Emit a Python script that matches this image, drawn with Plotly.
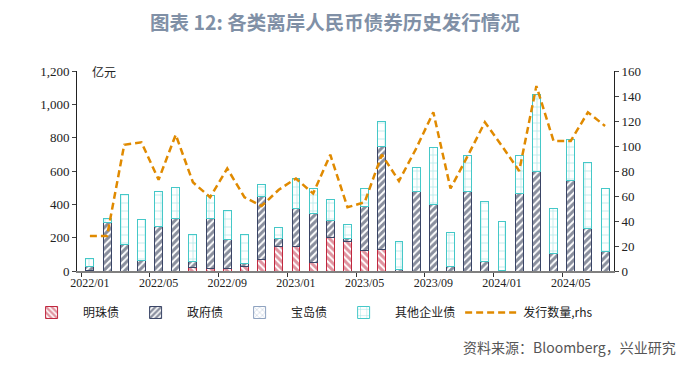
import plotly.graph_objects as go

months = ["2022/01","2022/02","2022/03","2022/04","2022/05","2022/06","2022/07","2022/08","2022/09","2022/10","2022/11","2022/12",
          "2023/01","2023/02","2023/03","2023/04","2023/05","2023/06","2023/07","2023/08","2023/09","2023/10","2023/11","2023/12",
          "2024/01","2024/02","2024/03","2024/04","2024/05","2024/06","2024/07"]
mingzhu = [5,0,0,0,0,0,24,15,18,30,68,146,
           150,50,203,177,124,132,0,0,0,0,0,0,
           0,0,0,0,0,0,0]
gov = [25,294,162,62,270,314,36,303,174,16,382,48,
       227,297,100,17,263,614,10,477,397,30,480,60,
       4,467,598,108,546,253,118]
baodao = [0]*31
other = [44,24,298,246,210,190,158,136,172,172,70,66,
         179,149,124,83,106,151,170,147,345,201,212,357,
         293,225,463,269,242,399,379]
count = [28,28,101,103,73,109,71,59,82,59,52,65,
         74,62,93,51,55,93,72,98,127,66,92,119,
         100,80,148,104,104,127,116]

idx = list(range(len(months)))
tick_idx = idx[::4]
tick_txt = [months[i] for i in tick_idx]

RED = "#C0283F"
NAVY = "#131D3C"
BAO = "#8FA3C0"
CYAN = "#45C8C8"
ORANGE = "#E08A00"
bw = 0.46

fig = go.Figure()
fig.add_bar(x=idx, y=mingzhu, name="明珠债", width=bw,
            marker=dict(color="white", line=dict(color=RED, width=1),
                        pattern=dict(shape="\\", fgcolor=RED, bgcolor="white", size=5, solidity=0.6)))
fig.add_bar(x=idx, y=gov, name="政府债", width=bw,
            marker=dict(color="white", line=dict(color="#3A4566", width=1),
                        pattern=dict(shape="/", fgcolor=NAVY, bgcolor="white", size=5, solidity=0.6)))
fig.add_bar(x=idx, y=baodao, name="宝岛债", width=bw,
            marker=dict(color="white", line=dict(color=BAO, width=1),
                        pattern=dict(shape="x", fgcolor=BAO, bgcolor="white", size=5, solidity=0.3)))
fig.add_bar(x=idx, y=other, name="其他企业债", width=bw,
            marker=dict(color="white", line=dict(color=CYAN, width=1),
                        pattern=dict(shape="+", fgcolor=CYAN, bgcolor="white", size=8, solidity=0.15)))
fig.add_scatter(x=idx, y=count, name="发行数量,rhs", yaxis="y2", mode="lines",
                line=dict(color=ORANGE, width=2.5, dash="7px,4px"))

fig.update_layout(
    width=686, height=381, barmode="stack", plot_bgcolor="white", paper_bgcolor="white",
    margin=dict(l=62, r=80, t=63, b=118),
    font=dict(family="Liberation Serif", size=12, color="#222"),
    xaxis=dict(range=[-0.75, 30.52], tickmode="array", tickvals=tick_idx, ticktext=tick_txt,
               showline=True, linecolor="#808080", linewidth=2, ticks="", showgrid=False, zeroline=False,
               tickfont=dict(family="Liberation Serif", size=12, color="#222"),
               minor=dict(tickmode="linear", tick0=-0.5, dtick=4, ticks="outside", ticklen=4, tickcolor="#333")),
    yaxis=dict(range=[0, 1200], dtick=200, tickformat=",", showline=True, linecolor="#222", linewidth=1,
               ticks="outside", ticklen=4, showgrid=False, zeroline=False,
               tickfont=dict(family="Liberation Serif", size=13, color="#222")),
    yaxis2=dict(range=[0, 160], dtick=20, overlaying="y", side="right", showline=True, linecolor="#222",
                linewidth=1, ticks="outside", ticklen=4, showgrid=False, zeroline=False,
                tickfont=dict(family="Liberation Serif", size=13, color="#222")),
    legend=dict(orientation="h", x=-0.106, y=-0.135, xref="paper", yref="paper", xanchor="left", yanchor="top",
                font=dict(family="Noto Sans CJK SC", size=12, color="#222"), traceorder="normal",
                itemwidth=53, bgcolor="rgba(0,0,0,0)"),
    showlegend=True,
)
fig.add_annotation(text="<b>图表 12: 各类离岸人民币债券历史发行情况</b>", x=0.48, y=1.25, xref="paper", yref="paper",
                   xanchor="center", yanchor="middle", showarrow=False,
                   font=dict(family="Noto Sans CJK SC", size=19.5, color="#8090A6"))
fig.add_annotation(text="亿元", x=0.025, y=1.0, xref="paper", yref="paper", xanchor="left", yanchor="middle",
                   showarrow=False, font=dict(family="Noto Sans CJK SC", size=12, color="#222"))
fig.add_annotation(text="资料来源：Bloomberg，兴业研究", x=1.12, xref="paper", y=-0.38, yref="paper",
                   xanchor="right", yanchor="middle", showarrow=False,
                   font=dict(family="Noto Sans CJK SC", size=14, color="#555"))

fig.write_html("out.html")
